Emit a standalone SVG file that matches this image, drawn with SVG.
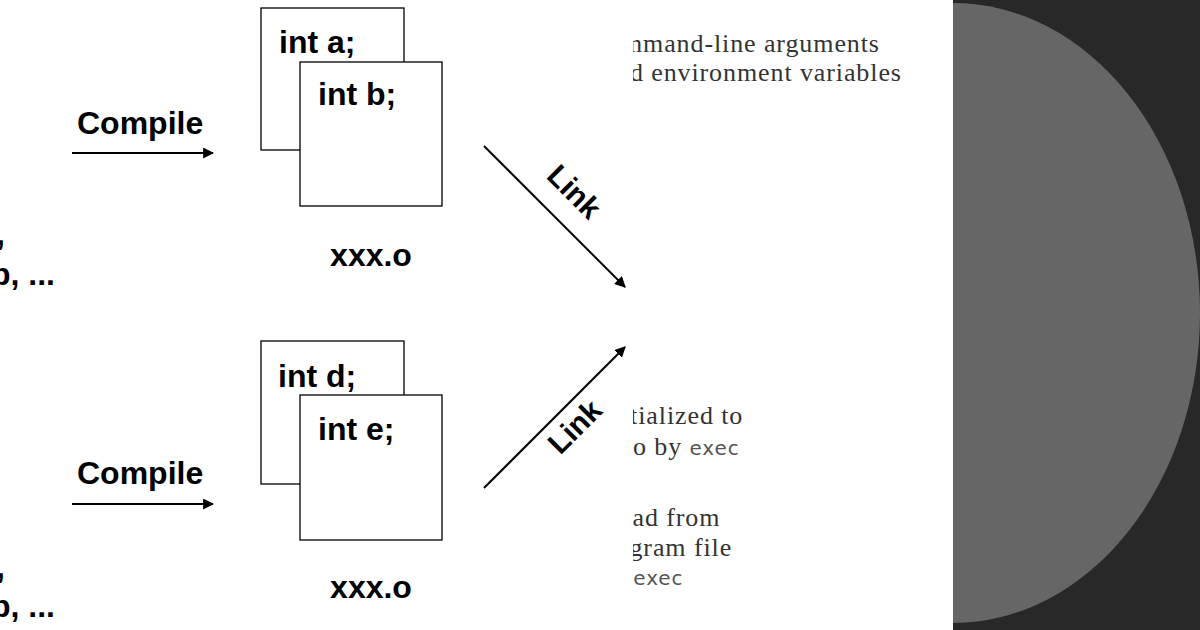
<svg xmlns="http://www.w3.org/2000/svg" width="1200" height="630" viewBox="0 0 1200 630">
<style>
.b{font-family:"Liberation Sans",Arial,sans-serif;font-weight:bold;font-size:32px;fill:#000}
.box{fill:#fff;stroke:#000;stroke-width:1.3}
.ln{stroke:#000;stroke-width:2;fill:none}
.s{font-family:"Liberation Serif","Times New Roman",serif;font-size:26px;letter-spacing:0.9px;fill:#333}
.m{font-family:"DejaVu Sans",sans-serif;font-size:20px;fill:#555}
</style>
<defs>
<marker id="ah" viewBox="0 0 10 10" refX="9" refY="5" markerWidth="5.5" markerHeight="5.5" orient="auto"><path d="M0,0L10,5L0,10z" fill="#000"/></marker>
<clipPath id="cl"><rect x="633" y="0" width="320" height="630"/></clipPath>
<clipPath id="pc"><rect x="953" y="0" width="247" height="630"/></clipPath>
</defs>
<rect width="1200" height="630" fill="#fff"/>
<rect x="953" y="0" width="247" height="630" fill="#282828"/>
<ellipse cx="953" cy="313" rx="247" ry="310" fill="#666" clip-path="url(#pc)"/>
<g id="left-text" class="b">
<text x="-4" y="245">,</text><text x="55" y="285" text-anchor="end">ab, ...</text>
<text x="-4" y="578">,</text><text x="55" y="617" text-anchor="end">ab, ...</text>
</g>
<g id="obj1">
<rect class="box" x="261" y="8" width="143" height="142"/>
<text class="b" x="279" y="53">int a;</text>
<rect class="box" x="300" y="62" width="142" height="144"/>
<text class="b" x="318" y="105">int b;</text>
<text class="b" x="371" y="266" text-anchor="middle">xxx.o</text>
</g>
<g id="obj2">
<rect class="box" x="261" y="341" width="143" height="143"/>
<text class="b" x="278" y="387">int d;</text>
<rect class="box" x="300" y="395" width="142" height="145"/>
<text class="b" x="318" y="440">int e;</text>
<text class="b" x="371" y="598" text-anchor="middle">xxx.o</text>
</g>
<g id="connectors">
<line class="ln" x1="72" y1="153" x2="213" y2="153" marker-end="url(#ah)"/>
<line class="ln" x1="72" y1="504" x2="213" y2="504" marker-end="url(#ah)"/>
<line class="ln" x1="484" y1="146" x2="625" y2="287" marker-end="url(#ah)"/>
<line class="ln" x1="484" y1="488" x2="625" y2="347" marker-end="url(#ah)"/>
<text class="b" x="77" y="134">Compile</text>
<text class="b" x="77" y="484">Compile</text>
<text class="b" transform="translate(567,199) rotate(45)" text-anchor="middle" style="font-size:30px">Link</text>
<text class="b" transform="translate(582,434) rotate(-45)" text-anchor="middle" style="font-size:30px">Link</text>
</g>
<g id="bg-text" clip-path="url(#cl)">
<text class="s" x="608" y="52">ommand-line arguments</text>
<text class="s" x="616" y="81">nd environment variables</text>
<text class="s" x="622" y="424">itialized to</text>
<text class="s" x="611" y="455">ero by <tspan class="m">exec</tspan></text>
<text class="s" x="620" y="526">ead from</text>
<text class="s" x="606" y="556">rogram file</text>
<text class="s" x="612" y="585">y <tspan class="m">exec</tspan></text>
</g>
</svg>
